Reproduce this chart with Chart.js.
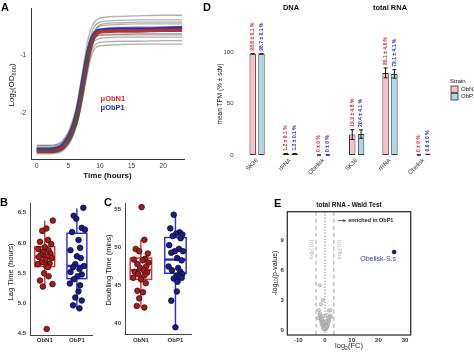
<!DOCTYPE html>
<html>
<head>
<meta charset="utf-8">
<script src="https://cdn.jsdelivr.net/npm/chart.js@4.4.1/dist/chart.umd.min.js"></script>
<style>
body { margin: 0; background: #fff; }
#fig { position: relative; width: 474px; height: 353px; overflow: hidden; font-family: 'Liberation Sans', Arial, sans-serif; }
.p { position: absolute; }
.tag { position: absolute; font: bold 11px 'Liberation Sans', Arial, sans-serif; color: #000; }
</style>
</head>
<body>
<div id="fig">
  <div class="p" style="left:0;top:0;width:205px;height:192px"><canvas id="chartA"></canvas></div>
  <div class="p" style="left:205px;top:0;width:135px;height:190px"><canvas id="chartD1"></canvas></div>
  <div class="p" style="left:340px;top:0;width:134px;height:190px"><canvas id="chartD2"></canvas></div>
  <div class="p" style="left:0;top:190px;width:100px;height:163px"><canvas id="chartB"></canvas></div>
  <div class="p" style="left:100px;top:190px;width:100px;height:163px"><canvas id="chartC"></canvas></div>
  <div class="p" style="left:240px;top:190px;width:234px;height:163px"><canvas id="chartE"></canvas></div>
  <div class="tag" style="left:1px;top:1px">A</div>
  <div class="tag" style="left:203px;top:1px">D</div>
  <div class="tag" style="left:0px;top:196px">B</div>
  <div class="tag" style="left:104px;top:196px">C</div>
  <div class="tag" style="left:274px;top:197px">E</div>
</div>
<script>
const FONT = "'Liberation Sans', Arial, sans-serif";
Chart.defaults.font.family = FONT;
Chart.defaults.animation = false;
Chart.defaults.events = [];
Chart.defaults.plugins.legend.display = false;
Chart.defaults.plugins.tooltip.enabled = false;

// ---- panel A: growth curves
const timeH = [0, 2, 3, 4, 5, 5.5, 6, 6.5, 7, 7.5, 8, 8.5, 9, 9.5, 10, 11, 13, 16, 20, 23];
const odN1 = [-2.66, -2.66, -2.65, -2.61, -2.47, -2.36, -2.22, -2.03, -1.74, -1.43, -1.12, -0.87, -0.70, -0.62, -0.59, -0.58, -0.57, -0.57, -0.56, -0.56];
const odP1 = [-2.62, -2.62, -2.61, -2.56, -2.41, -2.29, -2.13, -1.91, -1.61, -1.29, -0.99, -0.77, -0.64, -0.58, -0.56, -0.55, -0.54, -0.54, -0.53, -0.52];
const odReps = [
  [-2.55, -2.55, -2.54, -2.48, -2.32, -2.18, -2.00, -1.76, -1.44, -1.10, -0.78, -0.56, -0.44, -0.38, -0.35, -0.33, -0.32, -0.31, -0.30, -0.30],
  [-2.58, -2.58, -2.57, -2.52, -2.38, -2.26, -2.10, -1.88, -1.58, -1.25, -0.93, -0.68, -0.52, -0.45, -0.42, -0.40, -0.39, -0.38, -0.38, -0.38],
  [-2.60, -2.60, -2.59, -2.55, -2.42, -2.31, -2.16, -1.96, -1.67, -1.35, -1.03, -0.77, -0.60, -0.52, -0.49, -0.47, -0.46, -0.45, -0.45, -0.45],
  [-2.64, -2.64, -2.64, -2.61, -2.51, -2.42, -2.29, -2.11, -1.86, -1.56, -1.24, -0.95, -0.74, -0.61, -0.55, -0.52, -0.51, -0.50, -0.50, -0.49],
  [-2.62, -2.62, -2.61, -2.57, -2.44, -2.33, -2.18, -1.97, -1.67, -1.34, -1.03, -0.81, -0.70, -0.66, -0.64, -0.63, -0.63, -0.62, -0.62, -0.62],
  [-2.68, -2.68, -2.67, -2.63, -2.50, -2.39, -2.24, -2.04, -1.76, -1.45, -1.14, -0.90, -0.77, -0.72, -0.70, -0.69, -0.68, -0.68, -0.68, -0.68],
  [-2.70, -2.70, -2.69, -2.66, -2.55, -2.45, -2.31, -2.12, -1.85, -1.55, -1.24, -0.99, -0.85, -0.79, -0.77, -0.76, -0.75, -0.75, -0.74, -0.74],
  [-2.66, -2.66, -2.66, -2.63, -2.53, -2.44, -2.31, -2.14, -1.90, -1.62, -1.32, -1.07, -0.91, -0.85, -0.83, -0.82, -0.81, -0.80, -0.80, -0.80],
  [-2.56, -2.56, -2.55, -2.50, -2.36, -2.24, -2.08, -1.86, -1.55, -1.22, -0.91, -0.70, -0.60, -0.57, -0.56, -0.55, -0.55, -0.55, -0.55, -0.55],
  [-2.66, -2.66, -2.66, -2.62, -2.50, -2.40, -2.25, -2.05, -1.76, -1.44, -1.11, -0.82, -0.62, -0.52, -0.47, -0.44, -0.43, -0.42, -0.42, -0.42],
  [-2.61, -2.61, -2.60, -2.56, -2.43, -2.32, -2.17, -1.96, -1.66, -1.33, -1.01, -0.78, -0.66, -0.61, -0.59, -0.58, -0.58, -0.57, -0.57, -0.57],
  [-2.63, -2.63, -2.62, -2.58, -2.46, -2.35, -2.20, -2.00, -1.71, -1.39, -1.08, -0.85, -0.72, -0.67, -0.65, -0.65, -0.64, -0.64, -0.64, -0.64]
];
const timeTicks = [0, 5, 10, 15, 20];
const odTicks = [-2, -1];

// ---- panels B and C: lag and doubling times
const strains = ['ObN1', 'ObP1'];
const lagN1 = [6.37, 6.24, 6.20, 6.05, 6.02, 5.98, 5.93, 5.90, 5.88, 5.85, 5.82, 5.80, 5.78, 5.77, 5.75, 5.72, 5.68, 5.66, 5.65, 5.62, 5.60, 5.50, 5.45, 5.38, 5.32, 5.28, 4.58];
const lagN1Jit = [0.25, 0.05, -0.08, 0.1, -0.15, 0.2, 0.0, -0.2, 0.12, -0.05, 0.18, -0.12, 0.08, -0.18, 0.22, 0.02, -0.1, 0.15, -0.22, 0.05, 0.1, -0.02, 0.12, -0.15, 0.24, -0.06, 0.06];
const lagP1 = [6.58, 6.45, 6.40, 6.25, 6.22, 6.18, 6.05, 5.92, 5.88, 5.78, 5.75, 5.65, 5.62, 5.60, 5.57, 5.52, 5.48, 5.45, 5.40, 5.33, 5.30, 5.20, 5.10, 5.05, 4.97, 4.92];
const lagP1Jit = [0.2, -0.1, -0.02, 0.15, 0.25, -0.15, 0.05, 0.1, -0.2, 0.0, 0.12, -0.05, 0.22, -0.12, 0.08, -0.2, 0.15, 0.02, -0.1, -0.22, 0.1, 0.05, -0.05, 0.15, -0.12, 0.08];
const lagN1Box = [5.27, 5.61, 5.77, 5.94, 6.37];
const lagP1Box = [4.91, 5.41, 5.62, 6.16, 6.57];
const lagTicks = [4.5, 5.0, 5.5, 6.0, 6.5];

const dblN1 = [55.3, 51.0, 49.8, 49.5, 49.2, 48.5, 48.4, 48.3, 48.0, 47.8, 47.5, 47.3, 47.0, 46.8, 46.7, 46.5, 46.3, 46.0, 45.8, 45.3, 44.3, 44.1, 43.3, 42.3, 42.1];
const dblN1Jit = [0.02, 0.1, -0.15, -0.05, 0.2, 0.12, -0.2, 0.05, 0.22, -0.1, 0.15, -0.02, 0.08, -0.18, 0.18, -0.08, 0.1, -0.22, 0.0, 0.14, -0.1, 0.06, -0.05, -0.12, 0.1];
const dblP1 = [54.3, 52.5, 52.0, 51.8, 51.7, 51.5, 51.2, 50.3, 49.8, 49.5, 49.5, 49.3, 48.6, 48.3, 47.5, 47.3, 47.0, 46.8, 46.5, 46.3, 46.2, 46.0, 45.9, 45.5, 44.2, 43.0, 39.5];
const dblP1Jit = [-0.05, -0.15, 0.12, 0.02, 0.2, -0.08, 0.15, -0.18, 0.1, -0.02, 0.22, -0.12, 0.05, 0.18, -0.2, 0.08, -0.1, 0.14, 0.2, 0.03, 0.12, 0.18, -0.05, 0.06, 0.04, -0.12, 0.0];
const dblN1Box = [42.1, 45.8, 47.0, 48.6, 51.0];
const dblP1Box = [39.4, 46.6, 48.4, 51.3, 54.3];
const dblTicks = [40, 45, 50, 55];

// ---- panel D: mean TPM
const dCats = ['SK36', 'rRNA', 'Obelisk'];
const dnaN1 = [98.8, 1.2, 0];
const dnaN1Sd = [0.1, 0.1, 0];
const dnaP1 = [98.7, 1.3, 0];
const dnaP1Sd = [0.1, 0.1, 0];
const rnaN1 = [19.9, 80.1, 0];
const rnaN1Sd = [4.8, 4.8, 0];
const rnaP1 = [20.4, 79.1, 0.6];
const rnaP1Sd = [4.1, 4.1, 0];
const tpmTicks = [0, 50, 100];

// ---- panel E: volcano
const volcGrey = [
  [-0.2, 0.05], [0.3, 0.1], [-0.5, 0.15], [0.6, 0.2], [-0.8, 0.3], [0.9, 0.35], [-1.0, 0.45], [1.1, 0.5],
  [-1.2, 0.6], [1.3, 0.7], [-1.4, 0.8], [1.5, 0.9], [-1.6, 1.0], [1.6, 1.1], [-1.7, 1.2], [1.8, 1.3],
  [0.1, 0.3], [-0.3, 0.5], [0.4, 0.6], [-0.6, 0.7], [0.7, 0.8], [-0.9, 0.9], [1.0, 1.0], [-1.1, 1.1],
  [1.2, 1.2], [-1.3, 1.3], [0.0, 0.15], [0.2, 0.4], [-0.1, 0.25], [0.5, 0.35], [-0.4, 0.2], [-1.9, 1.4],
  [2.0, 1.45], [-2.1, 1.55], [-1.8, 1.7], [1.4, 1.95], [2.1, 2.0], [-1.5, 2.6], [-2.3, 2.0], [-2.0, 4.5],
  [-0.8, 3.0], [-2.5, 1.2], [2.4, 1.3], [-0.7, 1.4], [0.8, 1.5], [-0.2, 0.8], [0.3, 0.9]
];
const volcHit = [[25.9, 7.85]];
const foldCut = [-3.32, 3.32];
const fcTicks = [-10, 0, 10, 20, 30];
const pTicks = [0, 3, 6, 9];

// ---- helpers
function setTicks(list) {
  return function(scale) { scale.ticks = list.map(v => ({ value: v })); };
}
function fixW(w) { return function(scale) { scale.width = w; }; }
function fixH(h) {
  return function(scale) {
    scale.height = h;
    // rotated labels would otherwise pad the chart area sideways
    scale.paddingLeft = 0;
    scale.paddingRight = 0;
  };
}

function drawRich(ctx, parts, size, weight, align) {
  const big = weight + ' ' + size + 'px ' + FONT;
  const small = weight + ' ' + (size * 0.7) + 'px ' + FONT;
  let total = 0;
  const widths = parts.map(p => {
    ctx.font = p.sub ? small : big;
    const w = ctx.measureText(p.t).width;
    total += w;
    return w;
  });
  let x = align === 'left' ? 0 : (align === 'right' ? -total : -total / 2);
  ctx.textAlign = 'left';
  parts.forEach((p, i) => {
    ctx.font = p.sub ? small : big;
    ctx.fillText(p.t, x, p.sub ? size * 0.3 : 0);
    x += widths[i];
  });
}

const textPlugin = {
  id: 'texts',
  afterDraw(chart, args, opts) {
    const ctx = chart.ctx;
    (opts.items || []).forEach(it => {
      const x = it.xv !== undefined ? chart.scales.x.getPixelForValue(it.xv) : it.x;
      const y = it.yv !== undefined ? chart.scales.y.getPixelForValue(it.yv) : it.y;
      ctx.save();
      ctx.translate(x, y);
      if (it.rot) ctx.rotate(it.rot * Math.PI / 180);
      ctx.fillStyle = it.color || '#111';
      ctx.textBaseline = 'middle';
      const parts = it.parts || [{ t: it.text }];
      drawRich(ctx, parts, it.size || 7, it.weight || 'normal', it.align || 'center');
      ctx.restore();
    });
  }
};

const boxPlugin = {
  id: 'boxes',
  beforeDatasetsDraw(chart, args, opts) {
    const { ctx } = chart;
    const x = chart.scales.x, y = chart.scales.y;
    (opts.boxes || []).forEach(b => {
      const xc = x.getPixelForValue(b.pos);
      const half = (x.getPixelForValue(b.pos + opts.width / 2) - x.getPixelForValue(b.pos - opts.width / 2)) / 2;
      const s = b.stats.map(v => y.getPixelForValue(v));
      ctx.save();
      ctx.strokeStyle = b.color;
      ctx.lineWidth = 1.4;
      ctx.beginPath();
      ctx.moveTo(xc, s[4]); ctx.lineTo(xc, s[3]);
      ctx.moveTo(xc, s[1]); ctx.lineTo(xc, s[0]);
      ctx.stroke();
      ctx.strokeRect(xc - half, s[3], 2 * half, s[1] - s[3]);
      ctx.lineWidth = 2.4;
      ctx.beginPath();
      ctx.moveTo(xc - half, s[2]); ctx.lineTo(xc + half, s[2]);
      ctx.stroke();
      ctx.restore();
    });
  }
};

const errPlugin = {
  id: 'errs',
  afterDatasetsDraw(chart) {
    const { ctx } = chart;
    const y = chart.scales.y;
    chart.data.datasets.forEach((ds, di) => {
      const meta = chart.getDatasetMeta(di);
      ds.data.forEach((v, j) => {
        const sd = ds.sd[j];
        const xp = meta.data[j].x;
        const top = y.getPixelForValue(v + sd);
        const bot = y.getPixelForValue(Math.max(v - sd, 0));
        ctx.save();
        ctx.strokeStyle = '#111';
        ctx.lineWidth = 1;
        ctx.beginPath();
        ctx.moveTo(xp, top); ctx.lineTo(xp, bot);
        ctx.moveTo(xp - 2, top); ctx.lineTo(xp + 2, top);
        ctx.moveTo(xp - 2, bot); ctx.lineTo(xp + 2, bot);
        ctx.stroke();
        ctx.translate(xp, top - 3);
        ctx.rotate(-Math.PI / 2);
        ctx.fillStyle = ds.textColor;
        ctx.textBaseline = 'middle';
        ctx.textAlign = 'left';
        ctx.font = 'bold 5px ' + FONT;
        ctx.fillText(v + ' \u00b1 ' + sd + ' %', 0, 0);
        ctx.restore();
      });
    });
  }
};

const strainLegend = {
  id: 'strainLegend',
  afterDraw(chart, args, opts) {
    if (!opts.show) return;
    const { ctx } = chart;
    ctx.save();
    ctx.fillStyle = '#111';
    ctx.font = '6px ' + FONT;
    ctx.textBaseline = 'middle';
    ctx.textAlign = 'left';
    ctx.fillText('Strain', opts.x, opts.y);
    chart.data.datasets.forEach((ds, i) => {
      const yy = opts.y + 5 + i * 7.5;
      ctx.fillStyle = ds.backgroundColor;
      ctx.fillRect(opts.x + 1, yy, 7, 6.5);
      ctx.strokeStyle = '#333';
      ctx.lineWidth = 0.8;
      ctx.strokeRect(opts.x + 1, yy, 7, 6.5);
      ctx.fillStyle = '#111';
      ctx.fillText(ds.label, opts.x + 11, yy + 3.3);
    });
    ctx.restore();
  }
};

const volcPlugin = {
  id: 'volc',
  beforeDatasetsDraw(chart) {
    const { ctx, chartArea } = chart;
    const x = chart.scales.x;
    ctx.save();
    ctx.strokeStyle = '#b5b5b5';
    ctx.lineWidth = 1.2;
    ctx.setLineDash([4, 3]);
    foldCut.forEach(v => {
      const xp = x.getPixelForValue(v);
      ctx.beginPath(); ctx.moveTo(xp, chartArea.top); ctx.lineTo(xp, chartArea.bottom); ctx.stroke();
    });
    ctx.strokeStyle = '#555';
    ctx.lineWidth = 1;
    ctx.setLineDash([1, 2]);
    const x0 = x.getPixelForValue(0);
    ctx.beginPath(); ctx.moveTo(x0, chartArea.top); ctx.lineTo(x0, chartArea.bottom); ctx.stroke();
    ctx.restore();
  },
  afterDraw(chart) {
    const { ctx, chartArea } = chart;
    const x = chart.scales.x, y = chart.scales.y;
    ctx.save();
    ctx.strokeStyle = '#333';
    ctx.lineWidth = 1.3;
    ctx.strokeRect(chartArea.left, chartArea.top, chartArea.right - chartArea.left, chartArea.bottom - chartArea.top);
    // arrow "enriched in ObP1"
    const ay = y.getPixelForValue(11.0);
    const ax0 = x.getPixelForValue(4.75), ax1 = x.getPixelForValue(8.0);
    ctx.strokeStyle = '#444';
    ctx.fillStyle = '#444';
    ctx.lineWidth = 0.9;
    ctx.beginPath(); ctx.moveTo(ax0, ay); ctx.lineTo(ax1 - 2, ay); ctx.stroke();
    ctx.beginPath(); ctx.moveTo(ax1, ay); ctx.lineTo(ax1 - 3, ay - 1.6); ctx.lineTo(ax1 - 3, ay + 1.6); ctx.closePath(); ctx.fill();
    ctx.restore();
  }
};

function hiddenGrid() { return { display: false, drawTicks: false }; }

// ---- panel A
new Chart(document.getElementById('chartA'), {
  type: 'line',
  data: {
    datasets: [
      ...odReps.map(c => ({
        data: timeH.map((t, i) => ({ x: t, y: c[i] })),
        borderColor: 'rgba(80,80,80,0.45)',
        borderWidth: 1.3
      })),
      { data: timeH.map((t, i) => ({ x: t, y: odN1[i] })), borderColor: '#e3242b', borderWidth: 3.6 },
      { data: timeH.map((t, i) => ({ x: t, y: odP1[i] })), borderColor: '#2424c8', borderWidth: 3.6 }
    ]
  },
  options: {
    responsive: true,
    maintainAspectRatio: false,
    layout: { padding: { left: 0, right: 21, top: 3, bottom: 0 } },
    elements: { point: { radius: 0 }, line: { cubicInterpolationMode: 'monotone', fill: false } },
    scales: {
      x: {
        type: 'linear', min: -0.9, max: 23.3,
        afterFit: fixH(33), afterBuildTicks: setTicks(timeTicks),
        ticks: { font: { size: 6.5 }, color: '#333', padding: 3, maxRotation: 0 },
        grid: hiddenGrid(), border: { color: '#333', width: 1 }
      },
      y: {
        min: -2.79, max: -0.19,
        afterFit: fixW(31), afterBuildTicks: setTicks(odTicks),
        ticks: { font: { size: 6.5 }, color: '#333', padding: 5 },
        grid: hiddenGrid(), border: { color: '#333', width: 1 }
      }
    },
    plugins: {
      texts: { items: [
        { parts: [{ t: 'Log' }, { t: '2', sub: true }, { t: '(OD' }, { t: '600', sub: true }, { t: ')' }], x: 12, y: 85, rot: -90, size: 8 },
        { text: 'Time (hours)', x: 107.5, y: 176, size: 8, weight: 'bold' },
        { text: '\u03bcObN1', xv: 10.1, yv: -1.75, size: 7.5, weight: 'bold', color: '#e3242b', align: 'left' },
        { text: '\u03bcObP1', xv: 10.1, yv: -1.905, size: 7.5, weight: 'bold', color: '#2424c8', align: 'left' }
      ] }
    }
  },
  plugins: [textPlugin]
});

// ---- panels B and C
function boxChart(id, n1, n1Jit, p1, p1Jit, n1Box, p1Box, yTicks, yMin, yMax, yFmt, axisW, padR, padT, xH, title, titleX, titleY) {
  return new Chart(document.getElementById(id), {
    type: 'scatter',
    data: {
      datasets: [
        { data: n1.map((v, i) => ({ x: 1 + n1Jit[i], y: v })), backgroundColor: '#a51c1c', borderColor: '#3a0a0a', borderWidth: 0.8, pointRadius: 2.8 },
        { data: p1.map((v, i) => ({ x: 2 + p1Jit[i], y: v })), backgroundColor: '#1d1d85', borderColor: '#0a0a3a', borderWidth: 0.8, pointRadius: 2.8 }
      ]
    },
    options: {
      responsive: true,
      maintainAspectRatio: false,
      layout: { padding: { left: 0, right: padR, top: padT, bottom: 0 } },
      scales: {
        x: {
          type: 'linear', min: 0.54, max: 2.47,
          afterFit: fixH(xH), afterBuildTicks: setTicks([1, 2]),
          ticks: { callback: v => strains[v - 1], font: { size: 6, weight: 'bold' }, color: '#333', padding: 2, maxRotation: 0, autoSkip: false },
          grid: hiddenGrid(), border: { color: '#444', width: 1 }
        },
        y: {
          min: yMin, max: yMax,
          afterFit: fixW(axisW), afterBuildTicks: setTicks(yTicks),
          ticks: { callback: yFmt, font: { size: 6, weight: 'bold' }, color: '#333', padding: 4 },
          grid: hiddenGrid(), border: { color: '#444', width: 1 }
        }
      },
      plugins: {
        boxes: { width: 0.62, boxes: [
          { pos: 1, stats: n1Box, color: '#e52a2a' },
          { pos: 2, stats: p1Box, color: '#2a2ad8' }
        ] },
        texts: { items: [{ text: title, x: titleX, y: titleY, rot: -90, size: 7.5, color: '#222' }] }
      }
    },
    plugins: [boxPlugin, textPlugin]
  });
}
boxChart('chartB', lagN1, lagN1Jit, lagP1, lagP1Jit, lagN1Box, lagP1Box, lagTicks, 4.48, 6.66, v => v.toFixed(1), 30, 8, 13, 18, 'Lag Time (hours)', 10.5, 82);
boxChart('chartC', dblN1, dblN1Jit, dblP1, dblP1Jit, dblN1Box, dblP1Box, dblTicks, 38.55, 55.8, v => String(v), 25, 8.3, 13.3, 18.5, 'Doubling Time (mins)', 8.5, 80);

// ---- panel D
function tpmChart(id, n1, n1Sd, p1, p1Sd, showY, texts, legend) {
  return new Chart(document.getElementById(id), {
    type: 'bar',
    data: {
      labels: dCats,
      datasets: [
        { label: 'ObN1', data: n1, sd: n1Sd, backgroundColor: '#f9bfca', borderColor: '#333', borderWidth: 1, borderSkipped: false, textColor: '#e3242b', categoryPercentage: 0.53, barPercentage: 0.73 },
        { label: 'ObP1', data: p1, sd: p1Sd, backgroundColor: '#acd8e3', borderColor: '#333', borderWidth: 1, borderSkipped: false, textColor: '#2424c8', categoryPercentage: 0.53, barPercentage: 0.73 }
      ]
    },
    options: {
      responsive: true,
      maintainAspectRatio: false,
      layout: { padding: { left: 0, right: showY ? 0 : 34, top: 15, bottom: 0 } },
      scales: {
        x: {
          afterFit: fixH(35),
          ticks: { font: { size: 6 }, color: '#333', padding: 2, minRotation: 45, maxRotation: 45, autoSkip: false },
          grid: hiddenGrid(), border: { display: false }
        },
        y: {
          display: showY, min: 0, max: 136.6,
          afterFit: fixW(showY ? 35.5 : 0), afterBuildTicks: setTicks(tpmTicks),
          ticks: { font: { size: 6 }, color: '#333', padding: 7 },
          grid: hiddenGrid(), border: { display: false }
        }
      },
      plugins: { texts: { items: texts }, strainLegend: legend }
    },
    plugins: [errPlugin, textPlugin, strainLegend]
  });
}
tpmChart('chartD1', dnaN1, dnaN1Sd, dnaP1, dnaP1Sd, true, [
  { text: 'mean TPM (% \u00b1 sdv)', x: 15.7, y: 94, rot: -90, size: 6.5, color: '#222' },
  { text: 'DNA', x: 86, y: 8, size: 7.5, weight: 'bold' }
], { show: false });
tpmChart('chartD2', rnaN1, rnaN1Sd, rnaP1, rnaP1Sd, false, [
  { text: 'total RNA', x: 50, y: 8, size: 7.5, weight: 'bold' }
], { show: true, x: 110, y: 81 });

// ---- panel E
new Chart(document.getElementById('chartE'), {
  type: 'scatter',
  data: {
    datasets: [
      { data: volcGrey.map(p => ({ x: p[0], y: p[1] })), backgroundColor: 'rgba(205,205,205,0.7)', borderColor: '#9a9a9a', borderWidth: 0.6, pointRadius: 1.6 },
      { data: volcHit.map(p => ({ x: p[0], y: p[1] })), backgroundColor: '#1a1a80', borderColor: '#0a0a40', borderWidth: 0.6, pointRadius: 2 }
    ]
  },
  options: {
    responsive: true,
    maintainAspectRatio: false,
    layout: { padding: { left: 0, right: 63.3, top: 21.7, bottom: 0 } },
    scales: {
      x: {
        type: 'linear', min: -14.1, max: 32.1,
        afterFit: fixH(18), afterBuildTicks: setTicks(fcTicks),
        ticks: { font: { size: 6, weight: 'bold' }, color: '#333', padding: 2, maxRotation: 0 },
        grid: hiddenGrid(), border: { display: false }
      },
      y: {
        min: -0.5, max: 11.9,
        afterFit: fixW(47.3), afterBuildTicks: setTicks(pTicks),
        ticks: { font: { size: 6, weight: 'bold' }, color: '#333', padding: 3.5 },
        grid: hiddenGrid(), border: { display: false }
      }
    },
    plugins: {
      texts: { items: [
        { text: 'total RNA - Wald Test', x: 109, y: 15.5, size: 6.5, weight: 'bold' },
        { parts: [{ t: '-log' }, { t: '10', sub: true }, { t: '(p-value)' }], x: 35, y: 83, rot: -90, size: 7, color: '#222' },
        { parts: [{ t: 'log' }, { t: '2', sub: true }, { t: '(FC)' }], x: 109, y: 156, size: 7.5, color: '#222' },
        { parts: [{ t: 'log' }, { t: '2', sub: true }, { t: '(10)' }], xv: -5.2, yv: 8.1, rot: -90, size: 5.5, color: '#b0b0b0' },
        { parts: [{ t: 'log' }, { t: '2', sub: true }, { t: '(10)' }], xv: 5.3, yv: 8.1, rot: -90, size: 5.5, color: '#b0b0b0' },
        { text: 'Obelisk-S.s', xv: 19.9, yv: 7.1, size: 7, color: '#3b3bcc' },
        { text: 'enriched in ObP1', xv: 8.7, yv: 11.0, size: 5.5, weight: 'bold', color: '#222', align: 'left' }
      ] }
    }
  },
  plugins: [volcPlugin, textPlugin]
});
</script>
</body>
</html>
